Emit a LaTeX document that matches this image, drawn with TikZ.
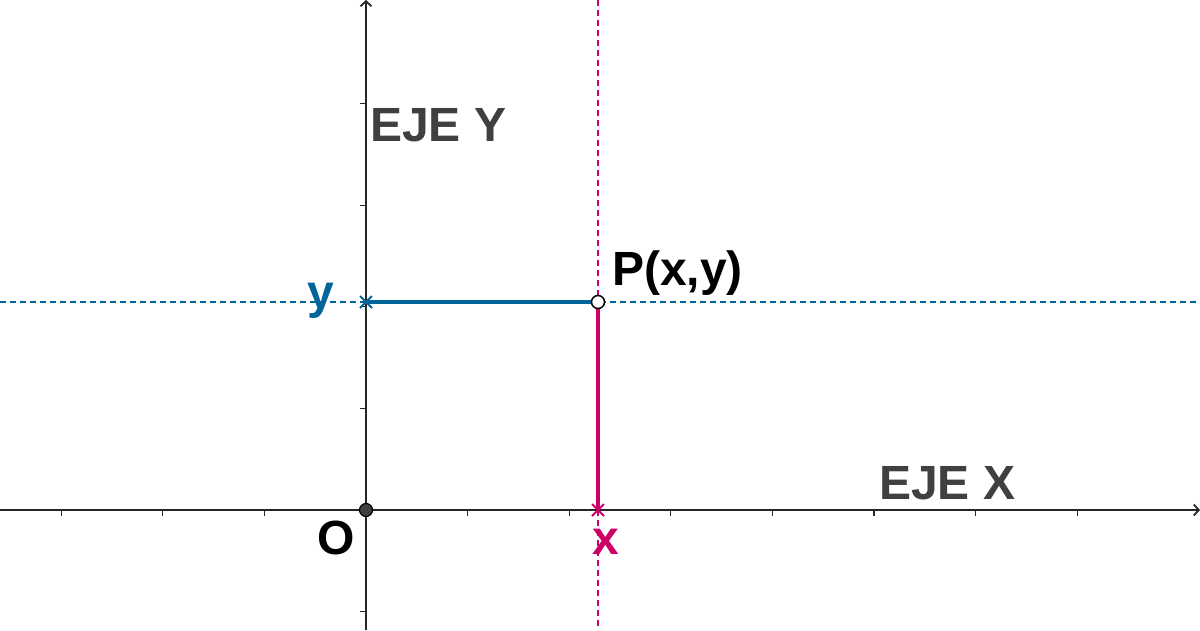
\documentclass[tikz,border=0pt]{standalone}
\usepackage{fontspec}
\setmainfont{Liberation Sans}
\usetikzlibrary{arrows.meta}
\definecolor{blu}{RGB}{0,101,153}
\definecolor{mag}{RGB}{204,0,102}
\definecolor{dgr}{RGB}{64,64,64}
\tikzset{ax/.style={line width=1.8pt,black!85},tk/.style={line width=1.3pt,black!85},
 lbl/.style={font=\bfseries\fontsize{48}{48}\selectfont,inner sep=0pt},
 guide/.style={dashed,line width=1.4pt,dash pattern=on 6pt off 4pt}}
\begin{document}
\begin{tikzpicture}[x=1pt,y=-1pt]
\useasboundingbox (0,0) rectangle (1200,630);
\coordinate (O) at (366,510);
\coordinate (P) at (598,302);
\coordinate (X) at (598,510);
\coordinate (Y) at (366,302);
\coordinate (xe) at (1200,510);
\coordinate (xs) at (0,510);
\coordinate (ye) at (366,0);
\coordinate (ys) at (366,630);
\draw[guide,blu] (0,302) -- (1200,302);
\draw[guide,mag] (598,0) -- (598,630);
\draw[ax,-{Straight Barb[length=5pt,width=11pt]}] (xs) -- (xe);
\draw[ax,-{Straight Barb[length=5pt,width=11pt]}] (ys) -- (ye);
\foreach \k in {-3,-2,-1,1,2,3,4,5,6,7}
  \draw[tk] (366+\k*101.6,510) -- ++(0,6);
\foreach \k in {-1,1,2,3,4}
  \draw[tk] (366,510-\k*101.6) -- ++(-6,0);
\draw[blu,line width=4pt] (Y) -- (P);
\draw[mag,line width=4pt] (P) -- (X);
\draw[blu,line width=2pt] (Y) +(-6,-6) -- +(6,6) (Y) +(-6,6) -- +(6,-6);
\draw[mag,line width=2pt] (X) +(-6,-6) -- +(6,6) (X) +(-6,6) -- +(6,-6);
\fill[dgr,draw=black,line width=1.2pt] (O) circle (6.5);
\draw[black,fill=white,line width=1.5pt] (P) circle (6.5);
\node[lbl,text=dgr,anchor=base west] (ey) at (370,141) {EJE Y};
\node[lbl,text=dgr,anchor=base west] (ex) at (879,499) {EJE X};
\node[lbl,anchor=base west] (pl) at (612,285) {P(x,y)};
\node[lbl,text=blu,anchor=base] (yl) at (321,308) {y};
\node[lbl,text=mag,anchor=base] (xl) at (606,554) {x};
\node[lbl,anchor=base] (ol) at (336,554) {O};
\end{tikzpicture}
\end{document}
